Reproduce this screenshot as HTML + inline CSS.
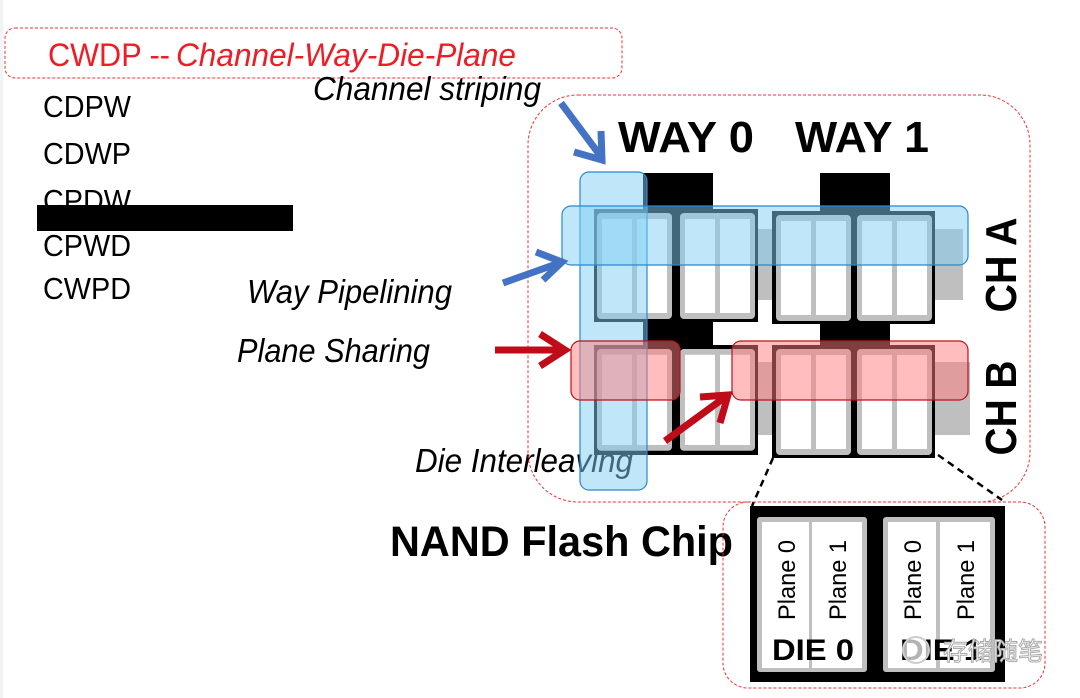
<!DOCTYPE html>
<html><head><meta charset="utf-8"><style>
html,body{margin:0;padding:0;background:#fff;}
svg{display:block;}
text{font-family:"Liberation Sans","Noto Sans CJK SC",sans-serif;}
</style></head><body>
<svg width="1080" height="698" viewBox="0 0 1080 698" xmlns="http://www.w3.org/2000/svg">
<defs>
<g id="die">
<rect x="0" y="0" width="75" height="106" rx="4" fill="#bfbfbf"/>
<rect x="5" y="6" width="30" height="94" fill="#fff"/>
<rect x="40" y="6" width="30" height="94" fill="#fff"/>
</g>
</defs>
<rect x="0" y="0" width="3" height="698" fill="#f2f3f5"/>
<rect x="5" y="28" width="617" height="50" rx="10" fill="none" stroke="#f03030" stroke-width="1" stroke-dasharray="3,2"/>
<text x="48" y="66" font-size="32" fill="#ee1c25" textLength="122" lengthAdjust="spacingAndGlyphs">CWDP --</text>
<text x="176" y="66" font-size="32" font-style="italic" fill="#ee1c25" textLength="340" lengthAdjust="spacingAndGlyphs">Channel-Way-Die-Plane</text>
<g font-size="31" fill="#000">
<text x="43" y="117" textLength="88" lengthAdjust="spacingAndGlyphs">CDPW</text>
<text x="43" y="164" textLength="88" lengthAdjust="spacingAndGlyphs">CDWP</text>
<text x="43" y="211" textLength="88" lengthAdjust="spacingAndGlyphs">CPDW</text>
<text x="43" y="256" textLength="88" lengthAdjust="spacingAndGlyphs">CPWD</text>
<text x="43" y="299" textLength="88" lengthAdjust="spacingAndGlyphs">CWPD</text>
</g>
<rect x="37" y="205" width="256" height="26" fill="#000"/>
<g font-size="33" font-style="italic" fill="#000">
<text x="313" y="100" textLength="228" lengthAdjust="spacingAndGlyphs">Channel striping</text>
<text x="247" y="303" textLength="205" lengthAdjust="spacingAndGlyphs">Way Pipelining</text>
<text x="237" y="362" textLength="193" lengthAdjust="spacingAndGlyphs">Plane Sharing</text>
<text x="415" y="472" textLength="218" lengthAdjust="spacingAndGlyphs">Die Interleaving</text>
</g>
<rect x="528" y="95" width="502" height="407" rx="50" fill="none" stroke="#f03030" stroke-width="1" stroke-dasharray="3,2"/>
<text x="618" y="152" font-size="44" font-weight="bold" textLength="136" lengthAdjust="spacingAndGlyphs">WAY 0</text>
<text x="795" y="152" font-size="44" font-weight="bold" textLength="134" lengthAdjust="spacingAndGlyphs">WAY 1</text>
<text transform="translate(1016,265) rotate(-90)" font-size="44" font-weight="bold" text-anchor="middle" textLength="95" lengthAdjust="spacingAndGlyphs">CH A</text>
<text transform="translate(1016,408) rotate(-90)" font-size="44" font-weight="bold" text-anchor="middle" textLength="95" lengthAdjust="spacingAndGlyphs">CH B</text>
<rect x="643" y="173" width="70" height="180" fill="#000"/>
<rect x="820" y="173" width="70" height="180" fill="#000"/>
<rect x="740" y="229" width="223" height="71" fill="#bfbfbf"/>
<rect x="740" y="362" width="230" height="73" fill="#bfbfbf"/>
<rect x="594" y="209" width="164" height="113" fill="#000"/>
<rect x="772" y="211" width="163" height="113" fill="#000"/>
<rect x="594" y="345" width="164" height="110" fill="#000"/>
<rect x="772" y="345" width="163" height="113" fill="#000"/>
<use href="#die" x="597" y="213"/><use href="#die" x="680" y="213"/>
<use href="#die" x="776" y="215"/><use href="#die" x="857" y="215"/>
<g transform="translate(597,349) scale(1,0.96)"><use href="#die"/></g>
<g transform="translate(680,349) scale(1,0.96)"><use href="#die"/></g>
<use href="#die" x="776" y="349"/><use href="#die" x="857" y="349"/>
<rect x="580" y="172" width="67" height="318" rx="9" fill="#7fcdf3" fill-opacity="0.5" stroke="#2b88d0" stroke-width="1.2"/>
<rect x="562" y="206" width="406" height="59" rx="9" fill="#7fcdf3" fill-opacity="0.5" stroke="#2b88d0" stroke-width="1.2"/>
<rect x="571" y="341" width="109" height="59" rx="9" fill="#ff7c7c" fill-opacity="0.5" stroke="#c0101a" stroke-width="1.2"/>
<rect x="732" y="341" width="236" height="59" rx="9" fill="#ff7c7c" fill-opacity="0.5" stroke="#c0101a" stroke-width="1.2"/>
<g stroke-width="7" fill="none" stroke-linecap="butt">
<path d="M561,103 L602,158 M601,131 L602,160 L574,152" stroke="#4472c4"/>
<path d="M503,283 L562,262 M536,252 L562,262 L543,280" stroke="#4472c4"/>
<path d="M495,350 L565,350 M540,334 L565,350 L540,366" stroke="#c00c18"/>
<path d="M665,441 L728,395 M700,397 L728,395 L720,423" stroke="#c00c18"/>
</g>
<path d="M773,458 L752,506 M938,455 L1002,500" stroke="#000" stroke-width="2.5" stroke-dasharray="7,5" fill="none"/>
<text x="390" y="556" font-size="43" font-weight="bold" textLength="343" lengthAdjust="spacingAndGlyphs">NAND Flash Chip</text>
<rect x="723" y="502" width="322" height="186" rx="25" fill="none" stroke="#f03030" stroke-width="1" stroke-dasharray="3,2"/>
<rect x="750" y="506" width="255" height="176" fill="#000"/>
<rect x="757" y="517" width="110" height="155" rx="3" fill="#bfbfbf"/>
<rect x="762" y="522" width="47" height="146" fill="#fff"/>
<rect x="812" y="522" width="50" height="146" fill="#fff"/>
<rect x="883" y="517" width="112" height="155" rx="3" fill="#bfbfbf"/>
<rect x="888" y="522" width="48" height="146" fill="#fff"/>
<rect x="940" y="522" width="50" height="146" fill="#fff"/>
<g font-size="24" fill="#000">
<text transform="translate(795,620) rotate(-90)" textLength="80" lengthAdjust="spacingAndGlyphs">Plane 0</text>
<text transform="translate(846,620) rotate(-90)" textLength="80" lengthAdjust="spacingAndGlyphs">Plane 1</text>
<text transform="translate(921,620) rotate(-90)" textLength="80" lengthAdjust="spacingAndGlyphs">Plane 0</text>
<text transform="translate(974,620) rotate(-90)" textLength="80" lengthAdjust="spacingAndGlyphs">Plane 1</text>
</g>
<text x="772" y="660" font-size="30" font-weight="bold" textLength="82" lengthAdjust="spacingAndGlyphs">DIE  0</text>
<text x="900" y="660" font-size="30" font-weight="bold" textLength="82" lengthAdjust="spacingAndGlyphs">DIE  1</text>
<circle cx="916" cy="650" r="13" fill="#fff" fill-opacity="0.7" stroke="#ccc" stroke-width="2"/>
<text x="943" y="660" font-size="25" fill="#fff" stroke="#aaa" stroke-width="1" font-family="Noto Sans CJK SC, sans-serif">存储随笔</text>
</svg>
</body></html>
